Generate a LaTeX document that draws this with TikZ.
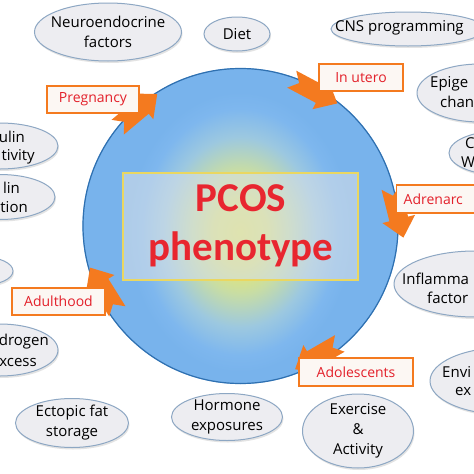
\documentclass[tikz,border=0pt]{standalone}
\usepackage{fontspec}
\setmainfont{Open Sans}
\newfontfamily\pcosfont{Carlito}
\usetikzlibrary{shapes.geometric,shadows}
\definecolor{ellfill}{HTML}{EDEDF1}
\definecolor{elldraw}{HTML}{8DA7C3}
\definecolor{orng}{HTML}{F47A1F}
\definecolor{lblred}{HTML}{E3202A}
\definecolor{lblfill}{HTML}{FCF7F3}
\definecolor{circdraw}{HTML}{2F70B0}
\definecolor{pcred}{HTML}{E8262F}
\definecolor{rectfill}{HTML}{D4DEE8}
\definecolor{sc0}{HTML}{EFEB5C}
\definecolor{sc1}{HTML}{E6E772}
\definecolor{sc2}{HTML}{C8DDA4}
\definecolor{sc3}{HTML}{9CC8E0}
\definecolor{sc4}{HTML}{7EB7EE}
\definecolor{circblue}{HTML}{78B3EC}
\pgfdeclareradialshading{pcosglow}{\pgfpoint{0bp}{0bp}}{color(0bp)=(sc0); color(6bp)=(sc1); color(11bp)=(sc2); color(17bp)=(sc3); color(22bp)=(sc4); color(25bp)=(circblue); color(50bp)=(circblue)}
\newcommand\orarrow[3]{\fill[orng, shift={(#1,#2)}, rotate=#3, scale=1.2] (-21,-8) -- (6,-8) -- (6,-14) -- (22,0) -- (6,14) -- (6,8) -- (-21,8) -- (-14,0) -- cycle;}
\tikzset{
  ell/.style={ellipse, draw=elldraw, fill=ellfill, line width=1pt, inner sep=0pt,
    drop shadow={opacity=0.22, shadow xshift=1pt, shadow yshift=-2pt}},
  txt/.style={font=\fontsize{15}{20}\selectfont, align=center, inner sep=0pt, text=black},
  lbl/.style={draw=orng, fill=lblfill, line width=1.4pt, text=lblred, inner sep=0pt,
    font=\fontsize{14}{16}\selectfont},
}
\begin{document}
\begin{tikzpicture}[x=1pt,y=-1pt]
\useasboundingbox (0,0) rectangle (474,474);
\clip (0,0) rectangle (474,474);
\fill[white] (0,0) rectangle (474,474);
% ellipses
\node[ell, minimum width=147, minimum height=58] (neuro) at (108,32) {};
\node[txt] (neurot) at (neuro) {Neuroendocrine\\factors};
\node[ell, minimum width=66, minimum height=34] (diet) at (237,34) {};
\node[txt] (dett) at (diet) {Diet};
\node[ell, minimum width=154, minimum height=34] (cns) at (408,29) {};
\node[txt, anchor=west] (cnst) at (335,28) {CNS programming};
\node[ell, minimum width=126, minimum height=58] (epi) at (480,93) {};
\node[txt, anchor=west] (epit1) at (430,84) {Epige};
\node[txt, anchor=west] (epit2) at (440,102) {chan};
\node[ell, minimum width=102, minimum height=44] (cw) at (500,153) {};
\node[txt, anchor=west] (cwt1) at (465,143) {C};
\node[txt, anchor=west] (cwt2) at (461,162) {W};
\node[ell, minimum width=162, minimum height=66] (infl) at (475,284) {};
\node[txt, anchor=west] (inflt1) at (402,279) {Inflamma};
\node[txt, anchor=west] (inflt2) at (427,298) {factor};
\node[ell, minimum width=150, minimum height=67] (env) at (505,381) {};
\node[txt, anchor=west] (envt1) at (442,372) {Envi};
\node[txt, anchor=west] (envt2) at (455,391) {ex};
\node[ell, minimum width=111, minimum height=74] (exer) at (358,431) {};
\node[txt] (exert) at (exer) {Exercise\\\&\\Activity};
\node[ell, minimum width=111, minimum height=47] (horm) at (227,417) {};
\node[txt] (hormt) at (horm) {Hormone\\exposures};
\node[ell, minimum width=113, minimum height=49] (ecto) at (72,423) {};
\node[txt] (ectot) at (ecto) {Ectopic fat\\storage};
\node[ell, minimum width=116, minimum height=52] (andr) at (0,350) {};
\node[txt, anchor=east] (andrt1) at (49,342) {drogen};
\node[txt, anchor=east] (andrt2) at (37,362) {xcess};
\node[ell, minimum width=116, minimum height=46] (sens) at (0,146) {};
\node[txt, anchor=east] (senst1) at (25,137) {ulin};
\node[txt, anchor=east] (senst2) at (35,157) {tivity};
\node[ell, minimum width=110, minimum height=45] (secr) at (0,197) {};
\node[txt, anchor=east] (secrt1) at (20,188) {lin};
\node[txt, anchor=east] (secrt2) at (28,207) {tion};
\node[ell, minimum width=60, minimum height=28] (small) at (-17,271) {};
% big circle
\node[circle, minimum size=316, inner sep=0pt, fill=circblue] (circ) at (240.5,226) {};
\begin{scope}
\clip (240.5,226) circle [radius=157];
\shade[shading=pcosglow] (240,232) ellipse [x radius=112, y radius=140];
\end{scope}
\draw[circdraw, line width=1.2pt] (circ.center) circle [radius=157.5];
\node[draw=sc1!85!orange, line width=1.2pt, fill=rectfill, fill opacity=0.6, minimum width=235, minimum height=107, inner sep=0pt] (rect) at (240.5,226.5) {};
\node[font=\pcosfont\bfseries\fontsize{41}{49}\selectfont, text=pcred, align=center, inner sep=0pt] (pcos) at (241,226) {PCOS\\phenotype};
% arrows
\orarrow{137}{111}{40}
\orarrow{314}{91}{-28}
\orarrow{397}{212}{-76}
\orarrow{318}{356}{210}
\orarrow{104}{290}{122}
% labels
\node[lbl, minimum width=92, minimum height=27] (preg) at (93,99.5) {Pregnancy};
\node[lbl, minimum width=84, minimum height=27] (utero) at (361,77.5) {In utero};
\node[lbl, anchor=west, minimum width=100, minimum height=28, text width=96, align=left, inner xsep=7pt] (adren) at (396,199) {Adrenarc};
\node[lbl, minimum width=114, minimum height=28] (adol) at (356,372) {Adolescents};
\node[lbl, minimum width=93, minimum height=27] (adult) at (58.5,301.5) {Adulthood};
\end{tikzpicture}
\end{document}
